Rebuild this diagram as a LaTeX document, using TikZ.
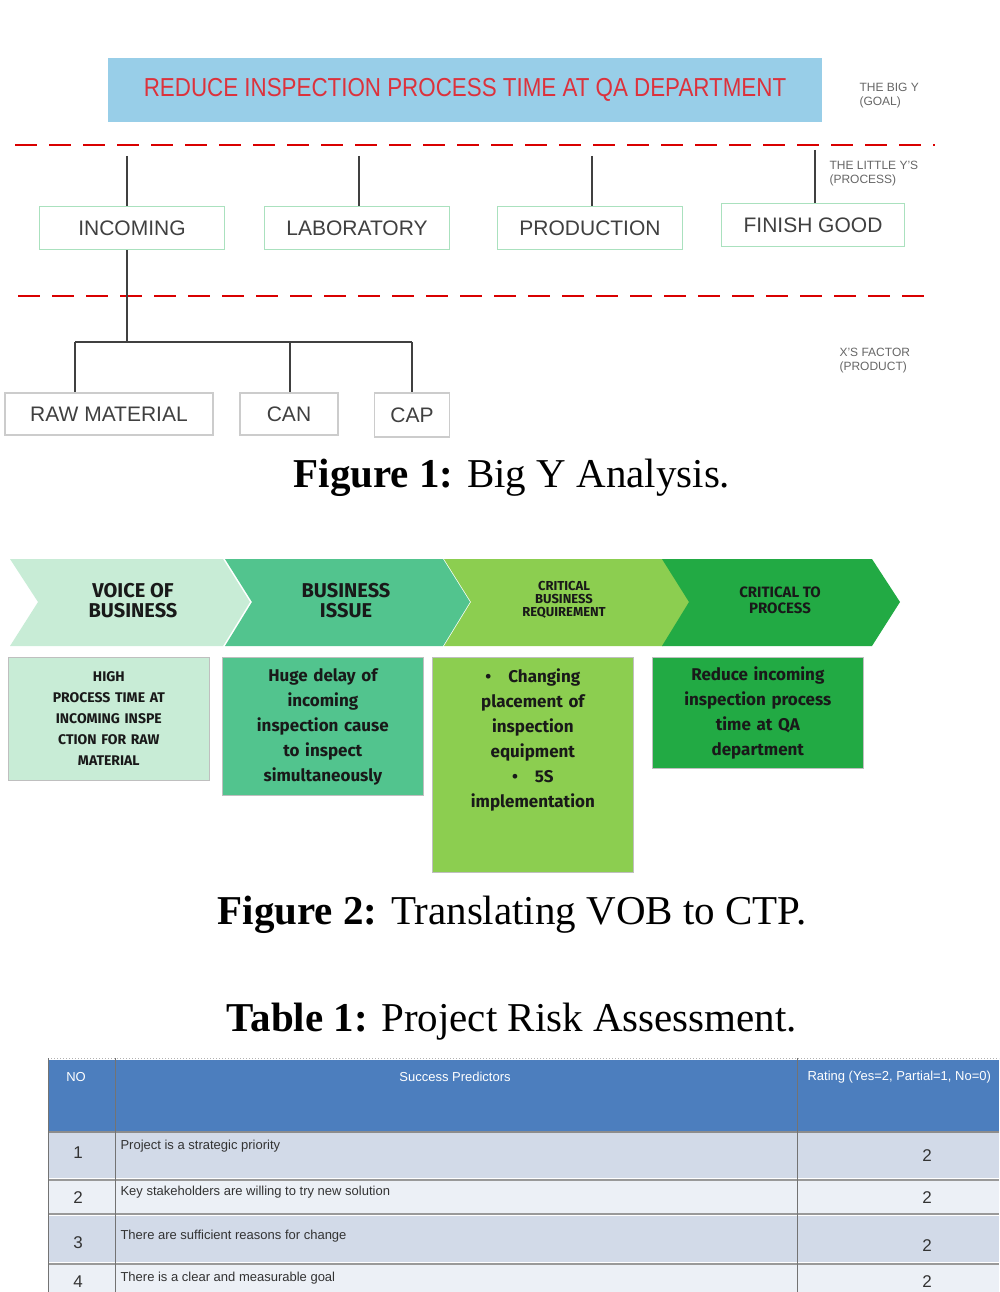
\documentclass[tikz,border=0pt]{standalone}
\usepackage{fontspec}
\setmainfont{Liberation Serif}
\setsansfont{Liberation Sans}
\newfontfamily\bsans{Fira Sans}
\usetikzlibrary{positioning}
\definecolor{goalblue}{RGB}{152,206,232}
\definecolor{goalred}{RGB}{220,50,60}
\definecolor{boxgreen}{RGB}{170,225,190}
\definecolor{cA}{RGB}{200,236,214}
\definecolor{cB}{RGB}{82,196,142}
\definecolor{cC}{RGB}{140,206,80}
\definecolor{cD}{RGB}{34,170,68}
\definecolor{hdr}{RGB}{76,126,190}
\definecolor{rowA}{RGB}{210,218,232}
\definecolor{rowB}{RGB}{236,240,246}
\tikzset{
  procbox/.style={draw=boxgreen,line width=1.5pt,fill=white,font=\sffamily\fontsize{21}{22}\selectfont,text=black!75,inner sep=0pt},
  prodbox/.style={draw=black!20,line width=1.5pt,fill=white,font=\sffamily\fontsize{21}{22}\selectfont,text=black!75,inner sep=0pt},
  link/.style={line width=2pt,black!75},
  redash/.style={draw=red!85!black,line width=2.5pt,dash pattern=on 22pt off 12pt},
  side/.style={font=\sffamily\fontsize{12}{14}\selectfont,text=black!60,align=left,anchor=north west},
  captxt/.style={font=\fontsize{41}{43}\selectfont},
  lowbox/.style={draw=black!25,line width=1pt,align=center,font=\bsans\bfseries\fontsize{17}{25}\selectfont,text=black!90},
  chevtxt/.style={align=center,font=\bsans\bfseries\fontsize{20}{20}\selectfont,text=black!90},
  cell/.style={font=\sffamily\fontsize{13}{14}\selectfont,text=black!80},
  num/.style={font=\sffamily\fontsize{17}{18}\selectfont,text=black!80},
}
\begin{document}
\begin{tikzpicture}[x=1pt,y=-1pt]
\useasboundingbox (0,0) rectangle (999,1292);
\clip (0,0) rectangle (999,1292);
% ---------- Figure 1
\node[fill=goalblue,minimum width=714pt,minimum height=64pt,inner sep=0pt] (goal) at (465,90)
  {\scalebox{0.86}[1]{\sffamily\fontsize{26}{28}\selectfont\color{goalred}REDUCE INSPECTION PROCESS TIME AT QA DEPARTMENT}};
\node[side] (bigy) at (856,80) {THE BIG Y\\(GOAL)};
\node[side] (littley) at (826,158) {THE LITTLE Y'S\\(PROCESS)};
\node[side] (xs) at (836,345) {X'S FACTOR\\(PRODUCT)};
\coordinate (d1a) at (15,145); \coordinate (d1b) at (935,145);
\coordinate (d2a) at (18,296); \coordinate (d2b) at (935,296);
\draw[redash] (d1a) -- (d1b);
\draw[redash] (d2a) -- (d2b);
\node[procbox,minimum width=185pt,minimum height=43pt] (inc) at (132,228) {INCOMING};
\node[procbox,minimum width=185pt,minimum height=43pt] (lab) at (357,228) {LABORATORY};
\node[procbox,minimum width=185pt,minimum height=43pt] (prod) at (590,228) {PRODUCTION};
\node[procbox,minimum width=183pt,minimum height=43pt] (fin) at (813,225) {FINISH GOOD};
\coordinate (t1) at (127,156); \coordinate (t2) at (359,156);
\coordinate (t3) at (592,156); \coordinate (t4) at (815,150);
\draw[link] (t1) -- (t1 |- inc.north);
\draw[link] (t2) -- (t2 |- lab.north);
\draw[link] (t3) -- (t3 |- prod.north);
\draw[link] (t4) -- (t4 |- fin.north);
\node[prodbox,minimum width=208pt,minimum height=42pt] (raw) at (109,414) {RAW MATERIAL};
\node[prodbox,minimum width=98pt,minimum height=42pt] (can) at (289,414) {CAN};
\node[prodbox,minimum width=75pt,minimum height=44pt] (capn) at (412,415) {CAP};
\coordinate (br) at (127,342);
\coordinate (bl) at (75,342);
\coordinate (bm) at (290,342);
\coordinate (brr) at (412,342);
\draw[link] (inc.south -| br) -- (br);
\draw[link] (bl) -- (brr);
\draw[link] (bl) -- (bl |- raw.north);
\draw[link] (bm) -- (bm |- can.north);
\draw[link] (brr) -- (capn.north);
\node[captxt] (cap1) at (512,478) {\textbf{Figure 1:} Big Y Analysis.};
% ---------- Figure 2
\fill[cA] (10,559) -- (223,559) -- (250,602) -- (223,646) -- (10,646) -- (38,602) -- cycle;
\fill[cB] (225,559) -- (443,559) -- (470,602) -- (443,646) -- (225,646) -- (252,602) -- cycle;
\fill[cC] (444,559) -- (663,559) -- (690,602) -- (663,646) -- (444,646) -- (471,602) -- cycle;
\fill[cD] (662,559) -- (872,559) -- (900,602) -- (872,646) -- (662,646) -- (689,602) -- cycle;
\node[chevtxt] (ch1) at (133,601) {VOICE OF\\BUSINESS};
\node[chevtxt] (ch2) at (346,601) {BUSINESS\\ISSUE};
\node[chevtxt,font=\bsans\bfseries\fontsize{13}{13}\selectfont] (ch3) at (564,600) {CRITICAL\\BUSINESS\\REQUIREMENT};
\node[chevtxt,font=\bsans\bfseries\fontsize{15}{16}\selectfont] (ch4) at (780,600) {CRITICAL TO\\PROCESS};
\node[lowbox,fill=cA,minimum width=198pt,minimum height=123pt,anchor=north west,text width=194pt,font=\bsans\bfseries\fontsize{14}{21}\selectfont] (b1) at (8,657) {HIGH\\PROCESS TIME AT\\INCOMING INSPE\\CTION FOR RAW\\MATERIAL};
\node[lowbox,fill=cB,minimum width=198pt,minimum height=138pt,anchor=north west,text width=194pt] (b2) at (222,657) {Huge delay of\\incoming\\inspection cause\\to inspect\\simultaneously};
\node[lowbox,fill=cC,minimum width=198pt,minimum height=215pt,anchor=north west,text width=194pt] (b3) at (432,657) {};
\node[lowbox,draw=none,anchor=north,text width=194pt] (b3t) at ([yshift=-8pt]b3.north) {\textbullet\quad Changing\\placement of\\inspection\\equipment\\\textbullet\quad 5S\\implementation};
\node[lowbox,fill=cD,minimum width=208pt,minimum height=111pt,anchor=north west,text width=204pt] (b4) at (652,657) {Reduce incoming\\inspection process\\time at QA\\department};
\node[captxt] (cap2) at (512,915) {\textbf{Figure 2:} Translating VOB to CTP.};
% ---------- Table
\node[captxt] (cap3) at (512,1022) {\textbf{Table 1:} Project Risk Assessment.};
\fill[hdr] (48,1060) rectangle (999,1131);
\fill[rowA] (48,1133) rectangle (999,1178);
\fill[rowB] (48,1181) rectangle (999,1213);
\fill[rowA] (48,1216) rectangle (999,1262);
\fill[rowB] (48,1265) rectangle (999,1292);
\draw[black!30,line width=1pt,dotted] (48,1058) -- (999,1058);
\draw[black!45,line width=2.5pt] (48,1132) -- (999,1132);
\draw[black!40,line width=2pt] (48,1180) -- (999,1180) (48,1214) -- (999,1214) (48,1264) -- (999,1264);
\draw[black!55,line width=1pt] (115,1058) -- (115,1292) (797,1058) -- (797,1292) (48,1058) -- (48,1292);
\node[cell,text=white] (hno) at (76,1077) {NO};
\node[cell,text=white] (hsp) at (455,1077) {Success Predictors};
\node[cell,text=white,anchor=west] (hr) at (804,1077) {Rating (Yes=2, Partial=1, No=0)};
\node[num] (n1) at (78,1153) {1};
\node[cell,anchor=west] (p1) at (117,1146) {Project is a strategic priority};
\node[num] (r1) at (927,1156) {2};
\node[num] (n2) at (78,1198) {2};
\node[cell,anchor=west] (p2) at (117,1192) {Key stakeholders are willing to try new solution};
\node[num] (r2) at (927,1198) {2};
\node[num] (n3) at (78,1243) {3};
\node[cell,anchor=west] (p3) at (117,1236) {There are sufficient reasons for change};
\node[num] (r3) at (927,1246) {2};
\node[num] (n4) at (78,1282) {4};
\node[cell,anchor=west] (p4) at (117,1278) {There is a clear and measurable goal};
\node[num] (r4) at (927,1282) {2};
\end{tikzpicture}
\end{document}
